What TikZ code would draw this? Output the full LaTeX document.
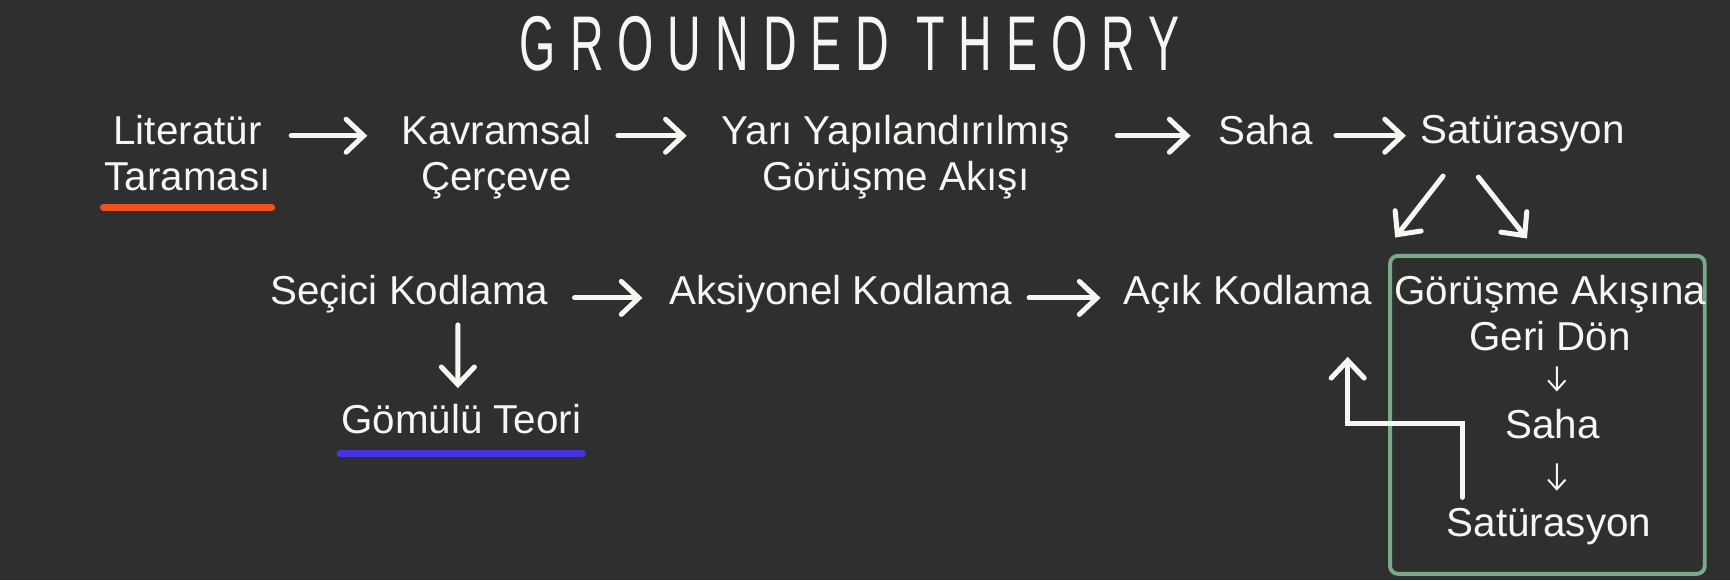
\documentclass[tikz,border=0pt]{standalone}
\usepackage{fontspec}
\setmainfont{Liberation Sans}
\usepackage{graphicx}
\usetikzlibrary{arrows.meta,calc}
\definecolor{bg}{HTML}{2F2F2F}
\definecolor{fg}{HTML}{F7F7F2}
\definecolor{grn}{HTML}{7AAB88}
\definecolor{org}{HTML}{F2511F}
\definecolor{blu}{HTML}{4535E0}
\newcommand{\handfont}{\fontsize{10.4}{12}\selectfont}
\begin{document}
\begin{tikzpicture}[x=0.01cm,y=-0.01cm,
  lbl/.style={text=fg,font=\handfont,inner sep=0pt,align=center},
  arr/.style={draw=fg,line width=1.3pt,line cap=round,-{Straight Barb[length=4.5pt,width=8.5pt,line cap=round]}},
  tarr/.style={draw=fg,line width=0.5pt,-{Straight Barb[length=2.5pt,width=4.5pt]}},
  ul/.style={line width=2pt,line cap=round},
  frame/.style={draw=grn,line width=1pt,rounded corners=2pt}]
\fill[bg] (0,0) rectangle (1568,526);
\useasboundingbox (0,0) rectangle (1568,526);

% title
\node[text=fg,inner sep=0pt] (title) at (770,40)
  {\scalebox{0.6}[1]{\fontsize{20}{24}\selectfont\addfontfeature{LetterSpace=30}GROUNDED THEORY}};

% row 1
\node[lbl,anchor=north] (lit)  at (170,103.5) {Literatür\\Taraması};
\node[lbl,anchor=north] (kav)  at (450,103.5) {Kavramsal\\Çerçeve};
\node[lbl,anchor=north] (yari) at (812,103.5) {Yarı Yapılandırılmış\\Görüşme Akışı};
\node[lbl,anchor=north] (saha) at (1147,103.5) {Saha};
\node[lbl,anchor=north] (sat)  at (1380,103.5) {Satürasyon};

% row 2
\node[lbl,anchor=base] (sec) at (371,276) {Seçici Kodlama};
\node[lbl,anchor=base] (aks) at (762,276) {Aksiyonel Kodlama};
\node[lbl,anchor=base] (ack) at (1131,276) {Açık Kodlama};
\node[lbl,anchor=base] (gom) at (418,393) {Gömülü Teori};

% loop box
\node[frame,minimum width=2.85cm,minimum height=2.88cm,inner sep=0pt] (box) at (1402.5,376) {};
\node[lbl,anchor=north] (gor) at (1405,248.5) {Görüşme Akışına\\Geri Dön};
\node[lbl,anchor=base] (saha2) at (1407,397) {Saha};
\node[lbl,anchor=base] (sat2) at (1404,486) {Satürasyon};

% underlines
\draw[ul,draw=org] ([yshift=-0.14cm]lit.south west) -- ([yshift=-0.14cm]lit.south east);
\draw[ul,draw=blu] ([yshift=-0.17cm]gom.south west) -- ([yshift=-0.17cm]gom.south east);

% row 1 arrows
\draw[arr,shorten <=0.18cm,shorten >=0.30cm] ([yshift=-0.195cm]lit.north east) -- ([yshift=-0.195cm]kav.north west);
\draw[arr,shorten <=0.23cm,shorten >=0.31cm] ([yshift=-0.195cm]kav.north east) -- ([yshift=-0.195cm]yari.north west);
\draw[arr,shorten <=0.42cm,shorten >=0.245cm] ([yshift=-0.195cm]yari.north east) -- ([yshift=-0.195cm]saha.north west);
\draw[arr,shorten <=0.205cm,shorten >=0.125cm] ([yshift=-0.195cm]saha.north east) -- ([yshift=-0.195cm]sat.north west);

% branches from saturation
\draw[arr] ([xshift=-0.72cm,yshift=-0.56cm]sat.north) -- ([xshift=0.2cm,yshift=0.335cm]ack.north east);
\draw[arr] ([xshift=-0.40cm,yshift=-0.57cm]sat.north) -- ([xshift=-0.185cm,yshift=0.14cm]box.north);

% row 2 arrows
\draw[arr,shorten <=0.23cm,shorten >=0.235cm] ([yshift=0.06cm]sec.base east) -- ([yshift=0.06cm]aks.base west);
\draw[arr,shorten <=0.145cm,shorten >=0.2cm] ([yshift=0.06cm]aks.base east) -- ([yshift=0.06cm]ack.base west);
\draw[arr] ([xshift=0.44cm,yshift=-0.10cm]sec.south) -- ([xshift=-0.03cm,yshift=0.14cm]gom.north);

% inside box
\draw[tarr] ([xshift=0.06cm,yshift=-0.13cm]gor.south) -- ([xshift=0.04cm,yshift=0.15cm]saha2.north);
\draw[tarr] ([xshift=0.04cm,yshift=-0.22cm]saha2.south) -- ([xshift=0.07cm,yshift=0.15cm]sat2.north);

% feedback loop
\draw[arr] ([xshift=0.145cm,yshift=0.09cm]sat2.north west) -- ++(0cm,0.67cm) -| ([xshift=-0.23cm,yshift=-0.39cm]ack.south east);
\end{tikzpicture}
\end{document}
